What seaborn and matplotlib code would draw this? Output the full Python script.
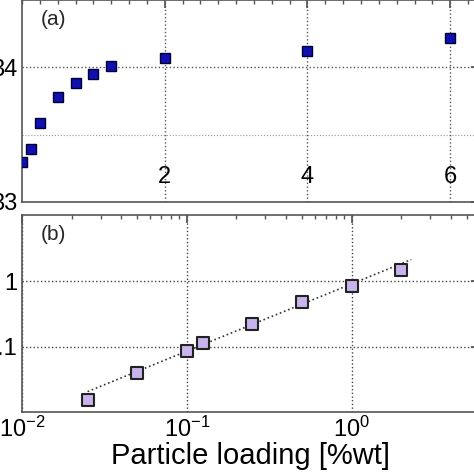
import numpy as np
import matplotlib
matplotlib.use("Agg")
import matplotlib.pyplot as plt
import seaborn as sns
from matplotlib.ticker import MultipleLocator, LogLocator, NullFormatter, FixedLocator

sns.set_theme(style="white")
plt.rcParams['font.family'] = ['Arial', 'Liberation Sans', 'DejaVu Sans']

xa = [0.0, 0.12, 0.25, 0.5, 0.75, 1.0, 1.25, 2.0, 4.0, 6.0]
ya = [33.30, 33.39, 33.59, 33.78, 33.88, 33.95, 34.01, 34.07, 34.12, 34.22]
ea = [0.015] * len(xa)

xb = [0.025, 0.05, 0.1, 0.125, 0.25, 0.5, 1.0, 2.0]
yb = [0.0158, 0.040, 0.086, 0.114, 0.22, 0.48, 0.84, 1.47]
fit_x = [0.025, 2.3]

fig = plt.figure(figsize=(4.74, 4.74), dpi=100)
ax1 = fig.add_axes([22/474, 1 - 202/474, 1 - 22/474 + 0.01, 202/474])
ax2 = fig.add_axes([22/474, 1 - 412/474, 1 - 22/474 + 0.01, (412 - 215)/474])

for ax in (ax1, ax2):
    for s in ax.spines.values():
        s.set_color('#555555'); s.set_linewidth(1.2)
    ax.tick_params(which='both', direction='in', top=True, right=True, colors='#555555', labelcolor='black', labelsize=17)
    ax.tick_params(which='major', length=6)
    ax.tick_params(which='minor', length=3)

# panel a
ax1.errorbar(xa, ya, yerr=ea, fmt='s', ms=6.5, mfc='#1010b0', mec='#000030', ecolor='black', capsize=3, lw=1, zorder=3)
ax1.set_xlim(0, 6.4)
ax1.set_ylim(33, 34.5)
ax1.xaxis.set_major_locator(FixedLocator([2, 4, 6]))
ax1.xaxis.set_minor_locator(MultipleLocator(0.25))
ax1.yaxis.set_major_locator(FixedLocator([33, 34]))
ax1.yaxis.set_minor_locator(MultipleLocator(0.1))
ax1.grid(True, which='major', ls=':', color='#555555', lw=1)
ax1.axhline(33.5, ls=':', color='#999999', lw=0.8, zorder=0)
ax1.tick_params(axis='x', pad=-26)
ax1.text(0.04, 0.95, '(a)', transform=ax1.transAxes, fontsize=15, va='top')

# panel b
sns.scatterplot(x=xb, y=yb, ax=ax2, marker='s', s=80, color='#c8b4ec', edgecolor='#222222', linewidth=1.5, zorder=3)
k, b = np.polyfit(np.log10(xb[1:7]), np.log10(yb[1:7]), 1)
fx = np.array(fit_x)
ax2.plot(fx, 10**(b + k*np.log10(fx)), ls=':', color='#333333', lw=1.2, zorder=2)
ax2.set_xscale('log'); ax2.set_yscale('log')
ax2.set_xlim(0.01, 5.9)
ax2.set_ylim(0.0102, 10.1)
ax2.xaxis.set_major_locator(LogLocator(base=10, numticks=10))
ax2.xaxis.set_minor_locator(LogLocator(base=10, subs=np.arange(2, 10), numticks=20))
ax2.xaxis.set_minor_formatter(NullFormatter())
ax2.yaxis.set_major_locator(FixedLocator([0.1, 1]))
ax2.yaxis.set_major_formatter(matplotlib.ticker.FixedFormatter(['0.1', '1']))
ax2.yaxis.set_minor_locator(LogLocator(base=10, subs=np.arange(2, 10), numticks=20))
ax2.yaxis.set_minor_formatter(NullFormatter())
ax2.grid(True, which='major', ls=':', color='#444444', lw=1)
ax2.set_xlabel('Particle loading [%wt]', fontsize=21, labelpad=0, color='black')
ax2.text(0.04, 0.95, '(b)', transform=ax2.transAxes, fontsize=15, va='top')

fig.savefig('out.png', dpi=100)
